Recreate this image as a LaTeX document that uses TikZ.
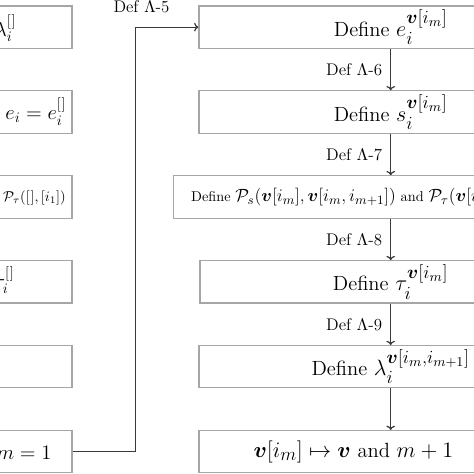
\RequirePackage{fix-cm}
\documentclass[tikz,border=0pt]{standalone}
\usepackage{amsmath,amssymb,bm}
\usetikzlibrary{arrows.meta}
\DeclareMathSizes{14.4}{15.5}{13}{9.5}
\DeclareMathSizes{10}{12.4}{9}{7}
\definecolor{boxgray}{HTML}{A6A6A6}
\definecolor{linegray}{HTML}{3A3A3A}
\newcommand{\emptylist}{[\mkern1mu]}
\begin{document}
\begin{tikzpicture}[x=0.7pt,y=-0.7pt,
  boxnode/.style={draw=boxgray, line width=0.8pt, minimum height=29.6pt, inner sep=0pt, font=\Large},
  lefttext/.style={font=\fontsize{14.41}{18}\selectfont, inner sep=0pt, anchor=base east},
  righttext/.style={font=\Large, inner sep=0pt, anchor=base west},
  deflabel/.style={font=\fontsize{11.8}{14}\selectfont, inner sep=0pt},
  conn/.style={draw=linegray, line width=0.85pt, -{To[length=3pt,width=6pt]}}]
\useasboundingbox (0,0) rectangle (474,474);
\clip (0,0) rectangle (474,474);

% left column (cut off by the frame)
\node[boxnode, minimum width=120.4pt] (L1) at (-14,27.15) {};
\node[boxnode, minimum width=120.4pt] (L2) at (-14,112.05) {};
\node[boxnode, minimum width=120.4pt] (L3) at (-14,196.95) {};
\node[boxnode, minimum width=120.4pt] (L4) at (-14,281.85) {};
\node[boxnode, minimum width=120.4pt] (L5) at (-14,366.75) {};
\node[boxnode, minimum width=120.4pt] (L6) at (-14,451.65) {};

\node[lefttext] (L1t) at (16.7,36) {$\lambda_i^{\emptylist}$};
\node[lefttext] (L2t) at (66.7,119.5) {$e_i = e_i^{\emptylist}$};
\node[lefttext, font=\fontsize{10.01}{12}\selectfont] (L3t) at (66,201) {$\mathcal{P}_\tau(\emptylist,[i_1])$};
\node[lefttext] (L4t) at (15,288) {$\tau_i^{\emptylist}$};
\node[lefttext] (L6t) at (51.7,459) {$m = 1$};

% right column
\node[boxnode, minimum width=268.4pt] (R1) at (390.7,27.15) {Define $e_i^{\bm v[i_m]}$};
\node[boxnode, minimum width=268.4pt] (R2) at (390.7,112.05) {Define $s_i^{\bm v[i_m]}$};
\node[boxnode, minimum width=304.4pt, font=\normalsize] (R3) at (390.7,196.95)
  {Define $\mathcal{P}_s(\bm v[i_m],\bm v[i_m,i_{m+1}])$ and $\mathcal{P}_\tau(\bm v[i_m],\bm v[i_m,i_{m+1}])$};
\node[boxnode, minimum width=267pt] (R4) at (390.7,281.85) {Define $\tau_i^{\bm v[i_m]}$};
\node[boxnode, minimum width=268.4pt] (R5) at (390.7,366.75) {Define $\lambda_i^{\bm v[i_m,i_{m+1}]}$};
\node[boxnode, minimum width=268.4pt] (R6) at (390.7,451.65) {};
\node[righttext] (R6t) at (253.3,457.3) {$\bm v[i_m]\mapsto\bm v$ and $m+1$};

% connectors
\coordinate (bend) at (135.7,27.15);
\draw[conn] (L6.east) -- (L6.east -| bend) -- (bend |- R1.west) -- (R1.west);
\node[deflabel] (lab5) at (141.5,7) {Def $\Lambda$-5};

\draw[conn] (R1) -- node[deflabel, anchor=east, xshift=-5.6pt] (lab6) {Def $\Lambda$-6} (R2);
\draw[conn] (R2) -- node[deflabel, anchor=east, xshift=-5.6pt] (lab7) {Def $\Lambda$-7} (R3);
\draw[conn] (R3) -- node[deflabel, anchor=east, xshift=-5.6pt] (lab8) {Def $\Lambda$-8} (R4);
\draw[conn] (R4) -- node[deflabel, anchor=east, xshift=-5.6pt] (lab9) {Def $\Lambda$-9} (R5);
\draw[conn] (R5) -- (R6);
\end{tikzpicture}
\end{document}
